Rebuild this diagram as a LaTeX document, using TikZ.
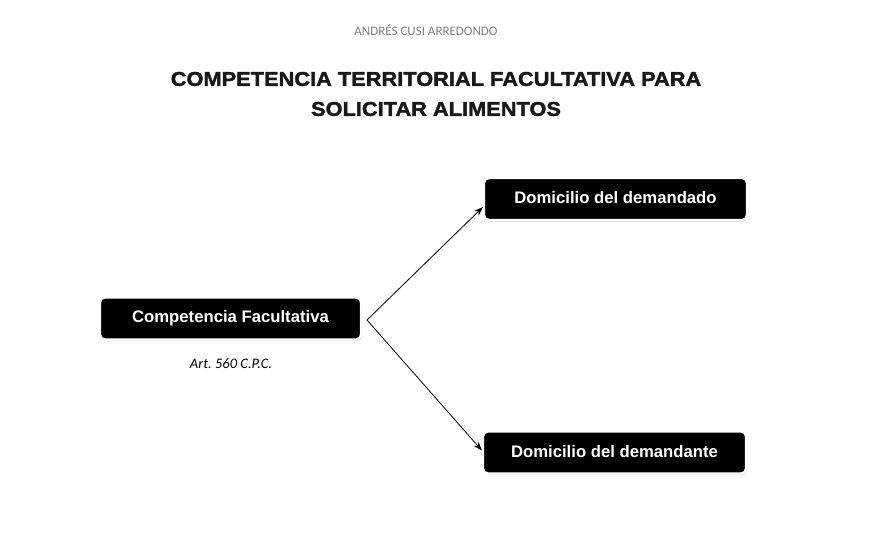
\documentclass[tikz,border=0pt]{standalone}
\usepackage{fontspec}
\setmainfont{Liberation Sans}
\newfontfamily\calibri{Carlito}
\newfontfamily\titlefont{Liberation Sans Bold}[FakeBold=1.8,FakeStretch=1.09]
\usetikzlibrary{arrows.meta,shadows,calc}
\begin{document}
\begin{tikzpicture}[x=1pt,y=-1pt,
  blackbox/.style={draw=white,line width=2.2pt,fill=black,rounded corners=5pt,
    text=white,font=\fontsize{16.7}{18}\selectfont\bfseries,
    minimum height=42pt,inner sep=0pt,
    drop shadow={opacity=0.35,shadow xshift=1pt,shadow yshift=-1.5pt}},
  conn/.style={line width=0.8pt,-{Stealth[length=9pt,width=6.5pt]}}]
\useasboundingbox (0,0) rectangle (883,548);
\fill[white] (0,0) rectangle (883,548);
\node[font=\calibri\fontsize{13}{14}\selectfont,text=black!50] (author) at (426,30) {ANDRÉS CUSI ARREDONDO};
\node[font=\titlefont\fontsize{20}{30}\selectfont,align=center,text=black!90] (title) at (436,94)
  {COMPETENCIA TERRITORIAL FACULTATIVA PARA\\SOLICITAR ALIMENTOS};
\node[blackbox,minimum width=261pt] (b1) at (230.5,318.5) {\raisebox{2pt}{Competencia Facultativa}};
\node[blackbox,minimum width=263pt] (b2) at (615.5,199) {\raisebox{3pt}{Domicilio del demandado}};
\node[blackbox,minimum width=263pt] (b3) at (614.5,452.5) {\raisebox{3pt}{Domicilio del demandante}};
\node[font=\calibri\itshape\fontsize{14.5}{16}\selectfont] (art) at (231,364) {Art.~560 C.P.C.};
\coordinate (split) at (367,320);
\draw[conn] (split) -- ([yshift=-8pt]b2.west);
\draw[conn] (split) -- ([yshift=2pt]b3.west);
\end{tikzpicture}
\end{document}
